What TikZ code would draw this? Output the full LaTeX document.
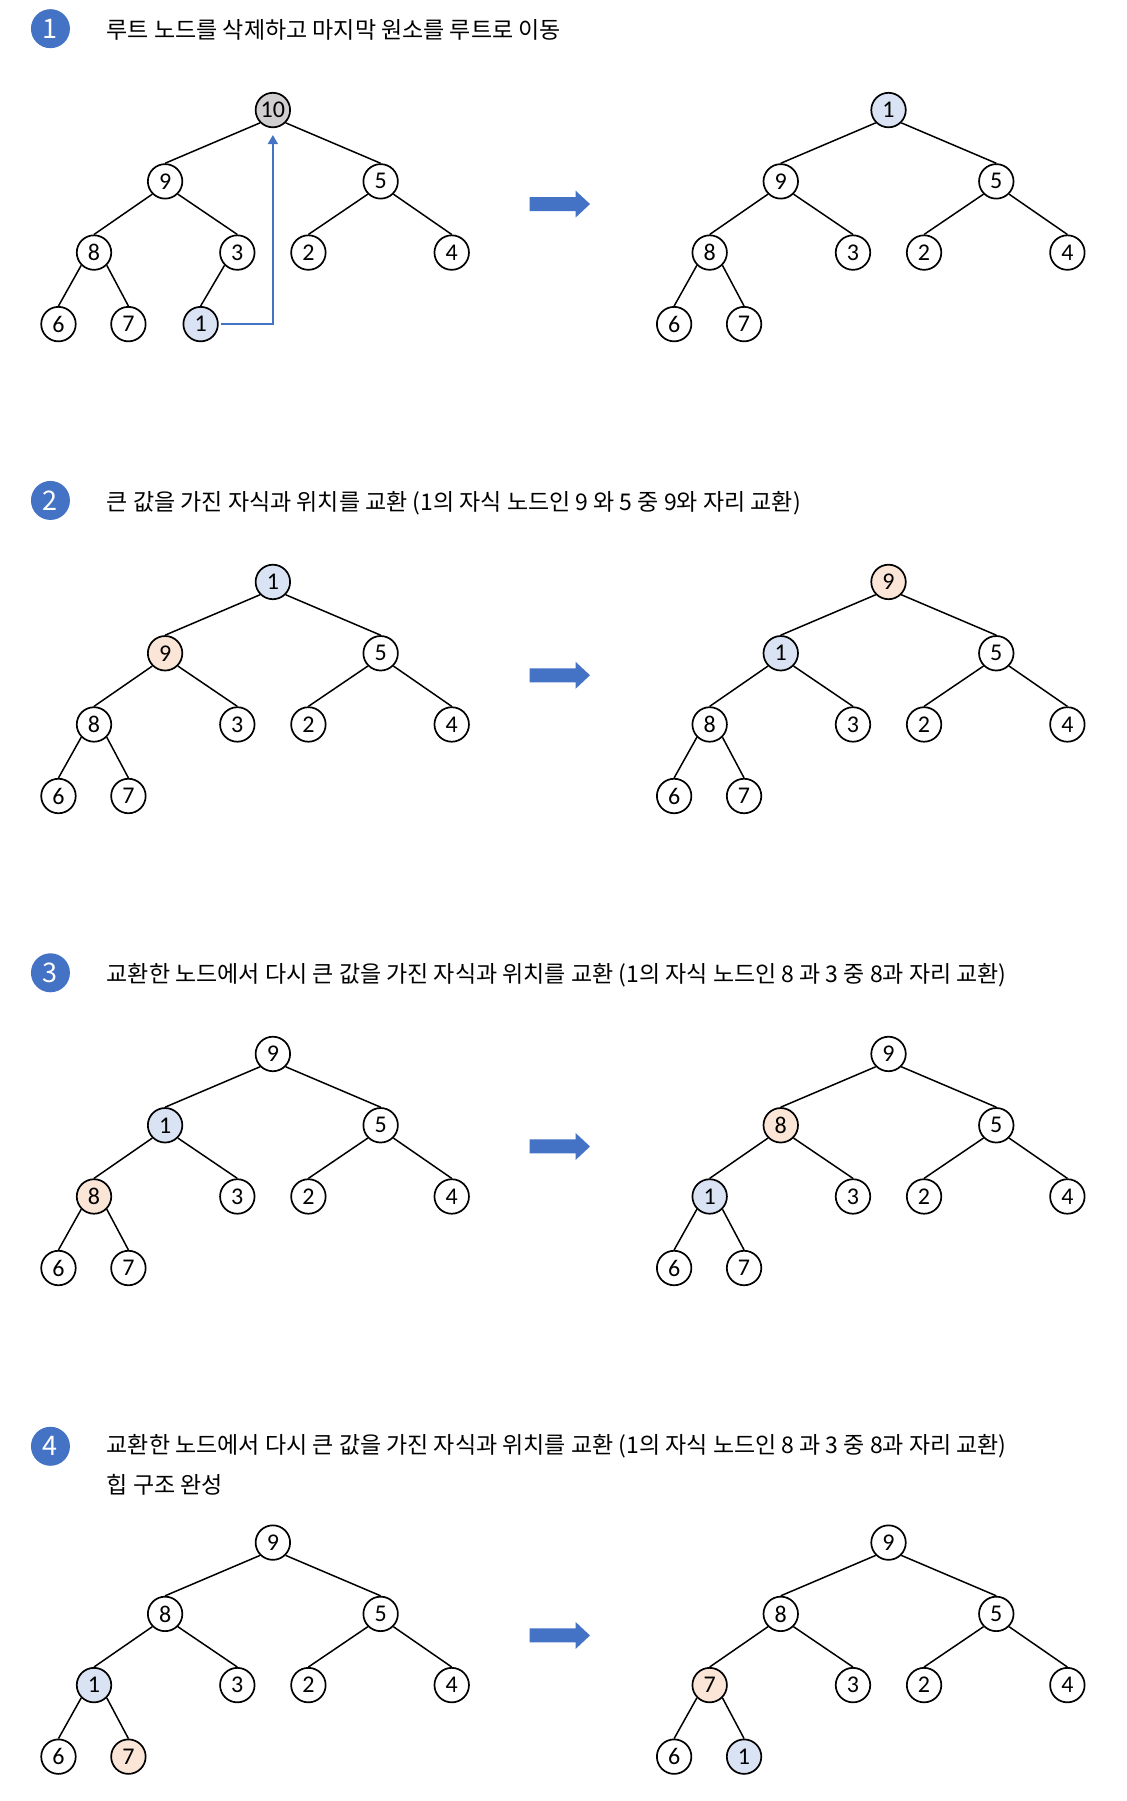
\documentclass[tikz,border=0pt]{standalone}
\usepackage{fontspec}
\newfontfamily\kr{Noto Sans CJK KR}
\newfontfamily\numfont{Carlito}
\usetikzlibrary{arrows.meta,calc}
\definecolor{accent}{HTML}{4472C4}
\definecolor{graynode}{HTML}{D0CECE}
\definecolor{bluenode}{HTML}{DAE3F3}
\definecolor{peachnode}{HTML}{FBE5D6}
\newcommand\stepArrow[1]{\fill[accent,shift={(0,#1)}] (462,-6.1) -- (502,-6.1) -- (502,-11.8) -- (514.6,0) -- (502,11.8) -- (502,6.1) -- (462,6.1) -- cycle;}
% edges of a heap tree with prefix #1
\newcommand\heapEdges[1]{\draw[edge] (#11.south west)--(#12.north) (#11.south east)--(#13.north) (#12.south west)--(#14.north) (#12.south east)--(#15.north) (#13.south west)--(#16.north) (#13.south east)--(#17.north) (#14.south west)--(#18.north) (#14.south east)--(#19.north);}
\begin{document}
\begin{tikzpicture}[x=1.1465pt,y=-1.1465pt,
 hn/.style={circle,draw=black,line width=1.7pt,fill=white,minimum size=34.5pt,inner sep=0pt,font=\numfont\fontsize{24}{24}\selectfont},
 gn/.style={hn,fill=graynode},
 bn/.style={hn,fill=bluenode},
 pn/.style={hn,fill=peachnode},
 edge/.style={line width=1.5pt},
 badge/.style={circle,fill=accent,minimum size=39pt,inner sep=0pt,text=white,font=\kr\fontsize{27}{27}\selectfont},
 title/.style={anchor=base west,inner sep=0pt,font=\kr\fontsize{23}{28}\selectfont}]
\useasboundingbox (0,0) rectangle (983,1570.9);

% ---------- Section 1 ----------
\node[badge] (b1) at (44,25) {1};
\node[title] (t1) at (93,33.5) {루트 노드를 삭제하고 마지막 원소를 루트로 이동};

\begin{scope}[shift={(238,96)}]
\node[gn] (a1) at (0,0) {10};
\node[hn] (a2) at (-94,62.2) {9};
\node[hn] (a3) at (94,62.2) {5};
\node[hn] (a4) at (-156,124.3) {8};
\node[hn] (a5) at (-31,124.3) {3};
\node[hn] (a6) at (31,124.3) {2};
\node[hn] (a7) at (156,124.3) {4};
\node[hn] (a8) at (-187,186.7) {6};
\node[hn] (a9) at (-126,186.7) {7};
\node[bn] (a10) at (-63,186.7) {1};
\end{scope}
\heapEdges{a}
\draw[edge] (a5.south west)--(a10.north);
\draw[accent,line width=1.5pt,-{Triangle[length=9pt,width=10pt]}] ([xshift=2pt]a10.east) -| ($(a1.south)+(0,6)$);

\stepArrow{178}

\begin{scope}[shift={(775,96)}]
\node[bn] (c1) at (0,0) {1};
\node[hn] (c2) at (-94,62.2) {9};
\node[hn] (c3) at (94,62.2) {5};
\node[hn] (c4) at (-156,124.3) {8};
\node[hn] (c5) at (-31,124.3) {3};
\node[hn] (c6) at (31,124.3) {2};
\node[hn] (c7) at (156,124.3) {4};
\node[hn] (c8) at (-187,186.7) {6};
\node[hn] (c9) at (-126,186.7) {7};
\end{scope}
\heapEdges{c}

% ---------- Section 2 ----------
\node[badge] (b2) at (44,436.5) {2};
\node[title] (t2) at (93,445) {큰 값을 가진 자식과 위치를 교환 (1의 자식 노드인 9 와 5 중 9와 자리 교환)};

\begin{scope}[shift={(238,507.6)}]
\node[bn] (d1) at (0,0) {1};
\node[pn] (d2) at (-94,62.2) {9};
\node[hn] (d3) at (94,62.2) {5};
\node[hn] (d4) at (-156,124.3) {8};
\node[hn] (d5) at (-31,124.3) {3};
\node[hn] (d6) at (31,124.3) {2};
\node[hn] (d7) at (156,124.3) {4};
\node[hn] (d8) at (-187,186.7) {6};
\node[hn] (d9) at (-126,186.7) {7};
\end{scope}
\heapEdges{d}

\stepArrow{589}

\begin{scope}[shift={(775,507.6)}]
\node[pn] (e1) at (0,0) {9};
\node[bn] (e2) at (-94,62.2) {1};
\node[hn] (e3) at (94,62.2) {5};
\node[hn] (e4) at (-156,124.3) {8};
\node[hn] (e5) at (-31,124.3) {3};
\node[hn] (e6) at (31,124.3) {2};
\node[hn] (e7) at (156,124.3) {4};
\node[hn] (e8) at (-187,186.7) {6};
\node[hn] (e9) at (-126,186.7) {7};
\end{scope}
\heapEdges{e}

% ---------- Section 3 ----------
\node[badge] (b3) at (44,848.5) {3};
\node[title] (t3) at (93,857) {교환한 노드에서 다시 큰 값을 가진 자식과 위치를 교환 (1의 자식 노드인 8 과 3 중 8과 자리 교환)};

\begin{scope}[shift={(238,919.3)}]
\node[hn] (f1) at (0,0) {9};
\node[bn] (f2) at (-94,62.2) {1};
\node[hn] (f3) at (94,62.2) {5};
\node[pn] (f4) at (-156,124.3) {8};
\node[hn] (f5) at (-31,124.3) {3};
\node[hn] (f6) at (31,124.3) {2};
\node[hn] (f7) at (156,124.3) {4};
\node[hn] (f8) at (-187,186.7) {6};
\node[hn] (f9) at (-126,186.7) {7};
\end{scope}
\heapEdges{f}

\stepArrow{1000}

\begin{scope}[shift={(775,919.3)}]
\node[hn] (g1) at (0,0) {9};
\node[pn] (g2) at (-94,62.2) {8};
\node[hn] (g3) at (94,62.2) {5};
\node[bn] (g4) at (-156,124.3) {1};
\node[hn] (g5) at (-31,124.3) {3};
\node[hn] (g6) at (31,124.3) {2};
\node[hn] (g7) at (156,124.3) {4};
\node[hn] (g8) at (-187,186.7) {6};
\node[hn] (g9) at (-126,186.7) {7};
\end{scope}
\heapEdges{g}

% ---------- Section 4 ----------
\node[badge] (b4) at (44,1261.5) {4};
\node[title] (t4) at (93,1268) {교환한 노드에서 다시 큰 값을 가진 자식과 위치를 교환 (1의 자식 노드인 8 과 3 중 8과 자리 교환)};
\node[title] (t4b) at (93,1303) {힙 구조 완성};

\begin{scope}[shift={(238,1345.5)}]
\node[hn] (h1) at (0,0) {9};
\node[hn] (h2) at (-94,62.2) {8};
\node[hn] (h3) at (94,62.2) {5};
\node[bn] (h4) at (-156,124.3) {1};
\node[hn] (h5) at (-31,124.3) {3};
\node[hn] (h6) at (31,124.3) {2};
\node[hn] (h7) at (156,124.3) {4};
\node[hn] (h8) at (-187,186.7) {6};
\node[pn] (h9) at (-126,186.7) {7};
\end{scope}
\heapEdges{h}

\stepArrow{1426.5}

\begin{scope}[shift={(775,1345.5)}]
\node[hn] (k1) at (0,0) {9};
\node[hn] (k2) at (-94,62.2) {8};
\node[hn] (k3) at (94,62.2) {5};
\node[pn] (k4) at (-156,124.3) {7};
\node[hn] (k5) at (-31,124.3) {3};
\node[hn] (k6) at (31,124.3) {2};
\node[hn] (k7) at (156,124.3) {4};
\node[hn] (k8) at (-187,186.7) {6};
\node[bn] (k9) at (-126,186.7) {1};
\end{scope}
\heapEdges{k}
\end{tikzpicture}
\end{document}
